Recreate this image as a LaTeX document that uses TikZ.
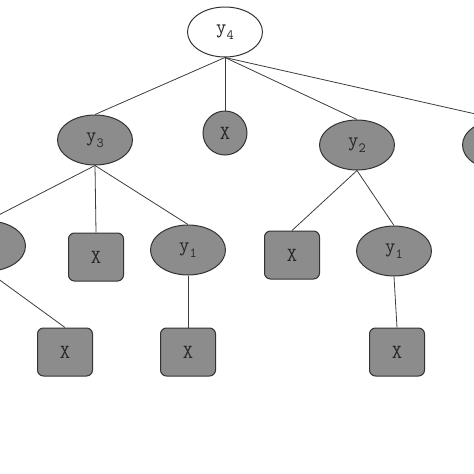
\documentclass[tikz,border=0pt]{standalone}
\usepackage{fontspec}
\usetikzlibrary{shapes.geometric}
\definecolor{nodefill}{RGB}{140,140,140}
\definecolor{edgecol}{RGB}{60,60,60}
\newcommand{\ysub}[1]{y\raisebox{-0.7ex}{\fontsize{14}{14}\selectfont #1}}
\tikzset{
  every node/.style={font=\ttfamily\fontsize{20}{20}\selectfont, text=black!85},
  latent/.style={ellipse, draw=black!80, line width=1pt, fill=nodefill,
    minimum width=75pt, minimum height=50pt, inner sep=0pt},
  root/.style={latent, fill=white},
  obsbox/.style={rectangle, rounded corners=6pt, draw=black!80, line width=1pt,
    fill=nodefill, minimum width=55pt, minimum height=48pt, inner sep=0pt},
  obscirc/.style={circle, draw=black!80, line width=1pt, fill=nodefill,
    minimum size=44pt, inner sep=0pt},
  link/.style={draw=edgecol, line width=0.8pt}
}
\begin{document}
\begin{tikzpicture}[x=1pt,y=-1pt]
\useasboundingbox (0,0) rectangle (474,474);
\clip (0,0) rectangle (474,474);
% level 0
\node[root] (y4) at (225,32) {\ysub{4}};
% level 1
\node[latent] (y3) at (95,140) {\ysub{3}};
\node[obscirc] (xa) at (225,133) {X};
\node[latent] (y2) at (357,145) {\ysub{2}};
\node[latent] (yr) at (500,145) {};
% level 2
\node[latent] (yl) at (-12,246) {};
\node[obsbox] (xb) at (96,257) {X};
\node[latent] (y1a) at (188,250) {\ysub{1}};
\node[obsbox] (xc) at (292,255) {X};
\node[latent] (y1b) at (394,251) {\ysub{1}};
% level 3
\node[obsbox] (xd) at (65,352) {X};
\node[obsbox] (xe) at (188,352) {X};
\node[obsbox] (xf) at (397,352) {X};
% connectors
\draw[link] (y4.south) -- (y3.north);
\draw[link] (y4.south) -- (xa.north);
\draw[link] (y4.south) -- (y2.north);
\draw[link] (y4.south) -- (yr.north);
\draw[link] (y3.south) -- (yl.north);
\draw[link] (y3.south) -- (xb.north);
\draw[link] (y3.south) -- (y1a.north);
\draw[link] (y2.south) -- (xc.north);
\draw[link] (y2.south) -- (y1b.north);
\draw[link] (yl.south) -- (xd.north);
\draw[link] (y1a.south) -- (xe.north);
\draw[link] (y1b.south) -- (xf.north);
\end{tikzpicture}
\end{document}
